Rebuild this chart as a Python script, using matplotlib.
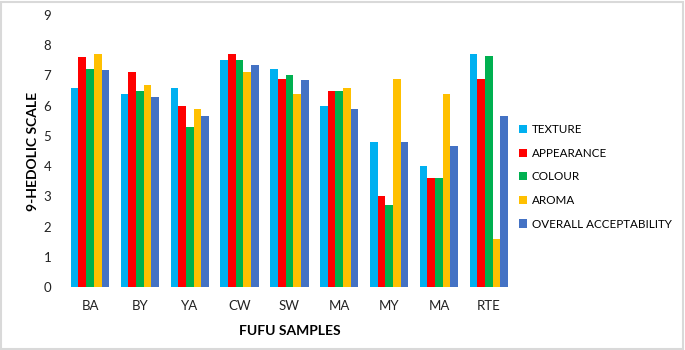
import matplotlib
matplotlib.use("Agg")
import matplotlib.pyplot as plt
import numpy as np
from matplotlib.patches import Rectangle

samples = ["BA", "BY", "YA", "CW", "SW", "MA", "MY", "MA", "RTE"]
series_names = ["TEXTURE", "APPEARANCE", "COLOUR", "AROMA", "OVERALL ACCEPTABILITY"]
texture = [6.6, 6.4, 6.6, 7.5, 7.2, 6.0, 4.8, 4.0, 7.7]
appearance = [7.6, 7.1, 6.0, 7.7, 6.9, 6.5, 3.0, 3.6, 6.9]
colour = [7.2, 6.5, 5.3, 7.5, 7.0, 6.5, 2.7, 3.6, 7.65]
aroma = [7.7, 6.7, 5.9, 7.1, 6.4, 6.6, 6.9, 6.4, 1.6]
overall = [7.17, 6.3, 5.66, 7.36, 6.86, 5.9, 4.8, 4.66, 5.65]
colors = ["#00B0F0", "#FF0000", "#00B050", "#FFC000", "#4472C4"]
yticks = list(range(0, 10))

plt.rcParams['font.family'] = ['Lato', 'DejaVu Sans']

fig = plt.figure(figsize=(6.85, 3.5), dpi=100)
ax = fig.add_axes([0.095, 0.18, 0.655, 0.777])

data = [texture, appearance, colour, aroma, overall]
x = np.arange(len(samples))
n = len(data)
group_w = 0.77
bw = group_w / n
for i, (vals, name, c) in enumerate(zip(data, series_names, colors)):
    ax.bar(x - group_w / 2 + bw * (i + 0.5), vals, width=bw, color=c, label=name, linewidth=0)

ax.set_xlim(-0.5, len(samples) - 0.5)
ax.set_ylim(0, 9)
ax.set_yticks(yticks)
ax.set_yticklabels([str(t) for t in yticks], fontsize=9.5, color="#222222")
ax.set_xticks(x)
ax.set_xticklabels(samples, fontsize=9.5, color="#222222")
ax.tick_params(axis='both', length=0)
ax.tick_params(axis='x', pad=9)
ax.tick_params(axis='y', pad=10)
for s in ax.spines.values():
    s.set_visible(False)

ax.set_xlabel("FUFU SAMPLES", fontsize=10, fontweight='bold', labelpad=10)
ax.set_ylabel("9-HEDOLIC SCALE", fontsize=10, fontweight='bold', labelpad=3)

leg = ax.legend(loc='center left', bbox_to_anchor=(0.985, 0.405), frameon=False,
                fontsize=8.4, handlelength=0.7, handleheight=0.7,
                handletextpad=0.4, labelspacing=1.08, borderaxespad=0.6)

fig.patches.append(Rectangle((0.002, 0.004), 0.995, 0.99, transform=fig.transFigure,
                             fill=False, edgecolor="#D9D9D9", linewidth=1.5))

fig.savefig("out.png", dpi=100)
